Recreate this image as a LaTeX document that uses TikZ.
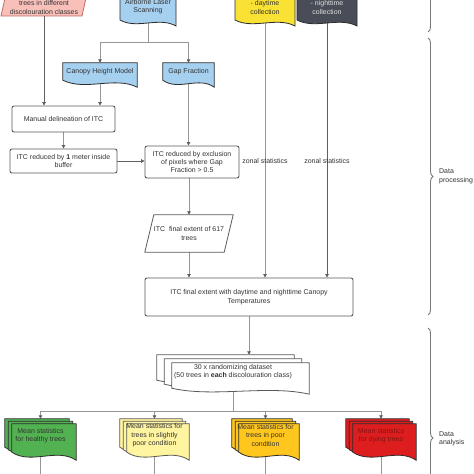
\documentclass[tikz,border=0pt]{standalone}
\usepackage{fontspec}
\setmainfont{Liberation Sans}
\usetikzlibrary{calc,arrows.meta,decorations.pathreplacing}
\pgfdeclarelayer{bgfill}
\pgfdeclarelayer{conn}
\pgfdeclarelayer{shapes}
\pgfsetlayers{bgfill,conn,shapes,main}
\definecolor{txt}{RGB}{51,51,51}
\definecolor{boxline}{RGB}{90,90,90}
\definecolor{shapeline}{RGB}{45,45,45}
\definecolor{conngray}{RGB}{150,150,150}
\definecolor{conndark}{RGB}{95,95,95}
\definecolor{pinkfill}{RGB}{249,192,186}
\definecolor{pinkline}{RGB}{190,105,100}
\definecolor{bluefill}{RGB}{166,208,240}
\definecolor{yelfill}{RGB}{250,226,52}
\definecolor{nightfill}{RGB}{72,77,87}
\definecolor{nighttxt}{RGB}{225,225,225}
\definecolor{greenfill}{RGB}{82,178,82}
\definecolor{ltyelfill}{RGB}{255,244,160}
\definecolor{goldfill}{RGB}{255,199,30}
\definecolor{redfill}{RGB}{222,30,30}
\definecolor{redtxt}{RGB}{130,20,20}
\definecolor{bracegray}{RGB}{120,120,120}
% one document layer with wavy bottom: style, nw, ne, se, sw, wave depth
\newcommand\doclayer[6]{%
  \draw[#1] #2 -- #3 -- ($#4+(0,#6)$)
    .. controls ($#4!0.3!#5+(0,-0.6*#6)$) and ($#5!0.3!#4+(0,1.6*#6)$) .. #5 -- cycle;}
% stack of three document layers around a node: node, style, depth, ox, oy
\newcommand\multidoc[5]{%
  \foreach \k in {0,1,2}{
    \coordinate (mdnw) at ($(#1.north west)+({\k*#4},{\k*#5})$);
    \coordinate (mdne) at ($(#1.north east)+({-(2-\k)*#4},{\k*#5})$);
    \coordinate (mdse) at ($(#1.south east)+({-(2-\k)*#4},{-(2-\k)*#5})$);
    \coordinate (mdsw) at ($(#1.south west)+({\k*#4},{-(2-\k)*#5})$);
    \doclayer{#2}{(mdnw)}{(mdne)}{(mdse)}{(mdsw)}{#3}
  }}
\begin{document}
\begin{tikzpicture}[x=1bp,y=-1bp,
  every node/.style={font=\fontsize{7}{8.5}\selectfont, text=txt, align=center, inner sep=0pt},
  procbox/.style={draw=boxline, fill=white, rounded corners=2bp, line width=0.9bp},
  shp/.style={draw=shapeline, line width=0.8bp},
  pinkshape/.style={draw=pinkline, fill=pinkfill, line width=0.8bp},
  blueshape/.style={shp, fill=bluefill},
  yelshape/.style={shp, fill=yelfill},
  nightshape/.style={shp, fill=nightfill},
  whiteshape/.style={draw=boxline, fill=white, line width=0.8bp},
  greenshape/.style={shp, fill=greenfill},
  ltyelshape/.style={draw=boxline, fill=ltyelfill, line width=0.8bp},
  goldshape/.style={shp, fill=goldfill},
  redshape/.style={shp, fill=redfill},
  conn/.style={draw=conngray, line width=0.9bp},
  conndk/.style={draw=conndark, line width=0.9bp},
  arr/.style={conn, -{Triangle[length=3.5bp,width=3.5bp,color=conndark]}},
  arrdk/.style={conndk, -{Triangle[length=3.5bp,width=3.5bp,color=conndark]}},
  bracestyle/.style={draw=bracegray, line width=0.9bp, decorate, decoration={brace, amplitude=5bp}}]
\useasboundingbox (0,0) rectangle (474,474);
\begin{pgfonlayer}{bgfill}
  \fill[white] (0,0) rectangle (474,474);
\end{pgfonlayer}

% ---- nodes
\node (field) at (44,7.5) {trees in different\\discolouration classes};
\node (lidar) at (148,6.5) {Airborne Laser\\Scanning};
\node (day) at (265,7.5) {- daytime\\collection};
\node[text=nighttxt] (night) at (327,7.5) {- nighttime\\collection};
\node[minimum width=74bp, minimum height=17bp] (chm) at (100,71.5) {Canopy Height Model};
\node[minimum width=51bp, minimum height=17bp] (gap) at (188.5,71.5) {Gap Fraction};
\node[procbox, minimum width=103bp, minimum height=26bp] (manual) at (63.5,119) {Manual delineation of ITC};
\node[procbox, minimum width=107bp, minimum height=24bp] (itc1) at (63.5,161) {ITC reduced by \textbf{1} meter inside\\buffer};
\node[procbox, minimum width=94bp, minimum height=32bp] (itc2) at (192,162) {ITC reduced by exclusion\\of pixels where Gap\\Fraction > 0.5};
\node[minimum width=88bp, minimum height=37bp] (final617) at (189,233.5) {ITC\ \ final extent of 617\\trees};
\node[procbox, minimum width=208bp, minimum height=38bp] (finalbox) at (249,297) {ITC final extent with daytime and nighttime Canopy\\Temperatures};
\node[minimum width=152bp, minimum height=33bp] (dataset) at (233,371.5) {30 x randomizing dataset\\(50 trees in \textbf{each} discolouration class)};
\node[minimum width=71bp, minimum height=33bp] (green) at (40.5,435.5) {Mean statistics\\for healthy trees};
\node[minimum width=69bp, minimum height=33bp] (ltyel) at (154.5,435.5) {Mean statistics for\\trees in slightly\\poor condition};
\node[minimum width=67bp, minimum height=33bp] (gold) at (265.5,435.5) {Mean statistics for\\trees in poor\\condition};
\node[minimum width=70bp, minimum height=33bp, text=redtxt] (red) at (381,435.5) {Mean statistics\\for dying trees};
\node[anchor=west, align=left] (dproc) at (439,176.5) {Data\\processing};
\node[anchor=west, align=left] (danal) at (439,439) {Data\\analysis};

% ---- shapes
\begin{pgfonlayer}{shapes}
  \draw[pinkshape] (9,-20) -- (90,-20) -- (82,16) -- (1,16) -- cycle;
  \doclayer{blueshape}{(120,-30)}{(176,-30)}{(176,20)}{(120,20)}{6}
  \doclayer{yelshape}{(235,-30)}{(295,-30)}{(295,20)}{(235,20)}{6}
  \doclayer{nightshape}{(297,-30)}{(357,-30)}{(357,20)}{(297,20)}{6}
  \doclayer{blueshape}{(chm.north west)}{(chm.north east)}{(chm.south east)}{(chm.south west)}{7}
  \doclayer{blueshape}{(gap.north west)}{(gap.north east)}{(gap.south east)}{(gap.south west)}{7}
  \draw[whiteshape] ($(final617.north west)+(9,0)$) -- (final617.north east)
    -- ($(final617.south east)+(-9,0)$) -- (final617.south west) -- cycle;
  \multidoc{dataset}{whiteshape}{6}{7.5}{4}
  \multidoc{green}{greenshape}{8}{3.5}{2.5}
  \multidoc{ltyel}{ltyelshape}{8}{3.5}{2.5}
  \multidoc{gold}{goldshape}{8}{3.5}{2.5}
  \multidoc{red}{redshape}{8}{3.5}{2.5}
\end{pgfonlayer}

% ---- connectors
\begin{pgfonlayer}{conn}
  \draw[arrdk] (field.center) -- (field.center |- manual.north);
  \coordinate (lfork) at (148,42);
  \draw[conn] (lidar.center) -- (lfork);
  \draw[arr] (lfork) -| (chm.north);
  \draw[arr] (lfork) -| (gap.north);
  \draw[arr] (chm.center) -- (chm.center |- manual.north);
  \draw[arr] (manual) -- (itc1);
  \draw[arrdk] (itc1.east) -- (itc1.east -| itc2.west);
  \draw[arr] (gap.center) -- (gap.center |- itc2.north);
  \draw[arr] (final617.north |- itc2.south) -- (final617.north);
  \draw[arr] (final617.south) -- (final617.south |- finalbox.north);
  \draw[arr] (day.center) -- node[pos=0.568] {zonal statistics} (day.center |- finalbox.north);
  \draw[arrdk] (night.center) -- node[pos=0.568] {zonal statistics} (night.center |- finalbox.north);
  \draw[arr] (finalbox) -- (finalbox |- dataset.north);
  \coordinate (dfork) at ($(dataset.center)+(0,39.5)$);
  \draw[conn] (dataset.center) -- (dfork);
  \draw[arr] (dfork) -| (green.north);
  \draw[arr] (dfork) -| (ltyel.north);
  \draw[arr] (dfork) -| (gold.north);
  \draw[arr] (dfork) -| (red.north);
  \draw[conn] (green.center) -- ++(0,60);
  \draw[conn] (ltyel.center) -- ++(0,60);
  \draw[conn] (gold.center) -- ++(0,60);
  \draw[conn] (red.center) -- ++(0,60);
\end{pgfonlayer}

% ---- braces
\draw[bracestyle] (428,-70) -- (428,32);
\draw[bracestyle] (428,38) -- (428,315);
\draw[bracestyle] (428,328) -- (428,548);
\end{tikzpicture}
\end{document}
